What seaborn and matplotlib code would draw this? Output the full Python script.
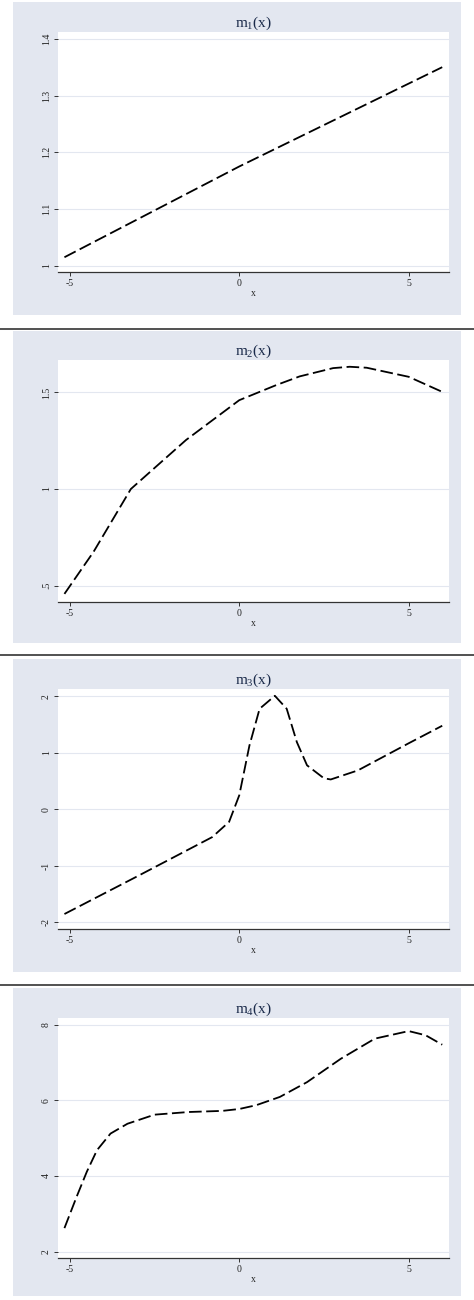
import numpy as np
import pandas as pd
import matplotlib
matplotlib.use("Agg")
import matplotlib.pyplot as plt
from matplotlib.patches import Rectangle
from matplotlib.lines import Line2D
import seaborn as sns

sns.set_theme(style="white")
plt.rcParams['font.family'] = ['Liberation Serif', 'DejaVu Serif']

titles = ["$\\mathregular{m_1(x)}$", "$\\mathregular{m_2(x)}$", "$\\mathregular{m_3(x)}$", "$\\mathregular{m_4(x)}$"]

x1 = [-5.16, 0.0, 5.99]
y1 = [1.015, 1.175, 1.35]

x2 = [-5.16, -4.3, -3.2, -1.57, 0.0, 1.09, 1.78, 2.77, 3.26, 3.76, 5.0, 5.99]
y2 = [0.457, 0.675, 1.0, 1.254, 1.46, 1.538, 1.583, 1.626, 1.633, 1.628, 1.581, 1.503]

x3 = [-5.16, -3.0, -0.8, -0.3, 0.0, 0.3, 0.6, 1.05, 1.4, 1.7, 2.0, 2.5, 2.7, 3.5, 5.0, 5.99]
y3 = [-1.85, -1.18, -0.49, -0.22, 0.25, 1.13, 1.78, 2.01, 1.78, 1.19, 0.78, 0.55, 0.53, 0.69, 1.17, 1.48]

x4 = [-5.16, -4.8, -4.5, -4.2, -3.8, -3.3, -2.5, -1.5, -0.5, 0.0, 0.5, 1.2, 2.0, 3.0, 4.0, 5.0, 5.5, 5.99]
y4 = [2.62, 3.45, 4.11, 4.68, 5.12, 5.38, 5.62, 5.69, 5.72, 5.77, 5.87, 6.09, 6.48, 7.10, 7.63, 7.83, 7.72, 7.47]

xs = [x1, x2, x3, x4]
ys = [y1, y2, y3, y4]
yticks = [[1.0, 1.1, 1.2, 1.3, 1.4], [0.5, 1.0, 1.5], [-2, -1, 0, 1, 2], [2, 4, 6, 8]]
yticklabels = [["1", "1.1", "1.2", "1.3", "1.4"], [".5", "1", "1.5"], ["-2", "-1", "0", "1", "2"], ["2", "4", "6", "8"]]
ylims = [(0.989, 1.412), (0.415, 1.668), (-2.115, 2.13), (1.83, 8.176)]
xticks = [-5, 0, 5]
xticklabels = ["-5", "0", "5"]

W, H = 474, 1300
fig = plt.figure(figsize=(W / 100, H / 100), dpi=100)
fig.patch.set_facecolor("white")

bgs = [(2, 315), (331, 643), (659, 972), (988, 1296)]
plots = [(32, 272), (360, 602), (689, 929), (1018, 1258)]
seps = [329, 655, 985]
bgcol = "#e3e7f0"

for (t, b) in bgs:
    fig.patches.append(Rectangle((13 / W, 1 - b / H), (461 - 13) / W, (b - t) / H,
                                 transform=fig.transFigure, facecolor=bgcol, edgecolor="none", zorder=-10))
for s in seps:
    fig.lines.append(Line2D([0, 1], [1 - s / H] * 2, transform=fig.transFigure, color="#333333", lw=1.2, zorder=-5))

for i in range(4):
    t, b = plots[i]
    ax = fig.add_axes([58 / W, 1 - b / H, (449 - 58) / W, (b - t) / H])
    ax.set_zorder(5)
    ax.set_facecolor("white")
    df = pd.DataFrame({"x": xs[i], "y": ys[i]})
    sns.lineplot(data=df, x="x", y="y", ax=ax, color="black", lw=1.3)
    ax.lines[0].set_dashes([7, 2.5])
    ax.set_xlim(-5.35, 6.19)
    ax.set_ylim(*ylims[i])
    ax.set_yticks(yticks[i])
    ax.set_yticklabels(yticklabels[i], rotation=90, va="center", fontsize=7)
    ax.set_xticks(xticks)
    ax.set_xticklabels(xticklabels, fontsize=7)
    ax.set_xlabel("x", fontsize=7, labelpad=1)
    ax.set_ylabel("")
    ax.set_title(titles[i], fontsize=11, color="#1a2a4a", pad=3)
    for yt in yticks[i]:
        ax.axhline(yt, color="#e3e7f0", lw=0.8, zorder=0)
    for sp in ["top", "right", "left"]:
        ax.spines[sp].set_visible(False)
    ax.spines["bottom"].set_color("#333333")
    ax.spines["bottom"].set_linewidth(0.9)
    ax.tick_params(axis="both", which="both", length=3, width=0.7, color="#333333",
                   left=True, bottom=True, pad=2, labelcolor="#222222")

fig.savefig("out.png", dpi=100, facecolor="white")
